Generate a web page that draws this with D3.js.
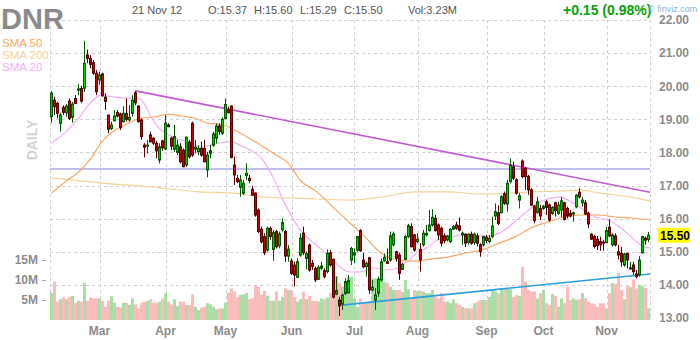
<!DOCTYPE html>
<html>
<head>
<meta charset="utf-8">
<script src="https://cdn.jsdelivr.net/npm/d3@7"></script>
<style>
  body { margin: 0; background: #fff; }
  svg { display: block; font-family: Arial, "Liberation Sans", sans-serif; }
</style>
</head>
<body>
<svg id="chart" width="700" height="340"></svg>
<script>
// --- data (daily candles, Feb 7 .. Nov 21 2012) ---
const monthLabels = ['Mar', 'Apr', 'May', 'Jun', 'Jul', 'Aug', 'Sep', 'Oct', 'Nov'];
const monthStart = [16, 38, 58, 80, 101, 122, 145, 164, 185]; // candle index of first trading day
const priceTicks = [13, 14, 15, 16, 17, 18, 19, 20, 21, 22];
const volTicks = [5, 10, 15]; // millions

const opens = [
  19.08, 19.58, 19.48, 18.88, 19.36, 19.20, 19.55, 19.06, 19.63, 19.88,
  19.93, 19.94, 20.94, 20.84, 20.71, 20.39, 20.19, 20.37, 19.67, 19.13,
  18.72, 18.96, 19.21, 19.16, 18.93, 19.18, 18.98, 19.18, 19.80, 19.40,
  18.98, 18.22, 18.20, 18.53, 18.43, 18.28, 17.77, 18.35, 18.10, 18.83,
  18.43, 18.10, 18.00, 18.17, 18.07, 17.62, 18.31, 18.88, 18.10, 18.02,
  18.12, 18.12, 17.47, 17.97, 18.22, 18.43, 18.80, 18.58, 19.03, 19.30,
  19.40, 17.62, 17.22, 16.95, 16.77, 17.30, 17.22, 16.89, 16.77, 16.26,
  15.68, 15.46, 15.05, 15.71, 15.07, 15.61, 15.18, 15.66, 15.61, 14.87,
  14.72, 14.60, 14.23, 14.90, 15.56, 14.80, 15.20, 14.65, 14.50, 14.17,
  14.50, 14.43, 14.40, 14.97, 14.77, 13.72, 13.54, 13.42, 13.74, 13.76,
  14.75, 14.90, 15.05, 15.64, 14.75, 14.55, 14.82, 13.85, 13.54, 13.75,
  14.15, 14.73, 14.70, 14.75, 15.21, 15.00, 14.90, 14.47, 14.77, 15.46,
  15.76, 15.51, 15.31, 15.07, 15.21, 15.51, 15.64, 15.81, 16.01, 15.81,
  15.71, 15.48, 15.36, 15.31, 15.68, 15.81, 15.78, 15.51, 15.53, 15.28,
  15.53, 15.28, 15.48, 15.21, 15.21, 15.44, 15.31, 15.46, 16.08, 16.18,
  16.18, 16.75, 16.44, 17.12, 17.57, 17.17, 16.56, 17.74, 17.52, 17.27,
  16.87, 16.38, 16.18, 16.31, 16.31, 16.51, 16.41, 16.16, 16.48, 16.16,
  16.26, 16.48, 16.31, 16.16, 16.14, 16.36, 16.80, 16.48, 16.48, 16.16,
  15.53, 15.46, 15.38, 15.31, 15.29, 15.28, 15.74, 15.21, 15.48, 15.00,
  14.95, 14.60, 14.95, 14.48, 14.60, 14.33, 14.30, 14.97, 15.41, 15.37
];
const highs = [
  19.86, 19.68, 19.53, 19.20, 19.43, 19.46, 19.63, 19.53, 19.73, 20.07,
  20.01, 21.37, 21.11, 20.94, 20.79, 20.49, 20.44, 20.41, 19.79, 19.13,
  18.93, 19.28, 19.28, 19.20, 19.40, 19.63, 19.43, 19.73, 19.86, 19.43,
  19.03, 18.28, 18.38, 18.63, 18.46, 18.35, 18.28, 18.38, 19.13, 18.88,
  18.48, 18.83, 18.38, 18.28, 18.12, 18.48, 18.38, 18.93, 18.38, 18.22,
  18.33, 18.38, 18.02, 18.23, 18.63, 18.88, 18.88, 19.06, 19.63, 19.38,
  19.42, 17.87, 17.32, 17.32, 17.17, 17.67, 17.32, 16.99, 16.79, 16.31,
  15.76, 15.56, 15.76, 15.76, 15.66, 15.66, 15.61, 16.01, 15.66, 15.20,
  14.80, 14.70, 14.80, 15.56, 15.76, 15.00, 15.25, 14.75, 14.55, 14.60,
  14.70, 14.50, 15.07, 15.05, 14.80, 14.25, 13.64, 13.74, 14.20, 14.30,
  15.15, 15.10, 15.48, 15.68, 14.97, 14.70, 14.85, 14.15, 13.90, 14.25,
  14.80, 14.95, 15.10, 15.61, 15.61, 15.03, 14.97, 14.67, 15.51, 15.84,
  15.86, 15.54, 15.56, 15.26, 15.66, 15.81, 16.26, 16.28, 16.11, 15.86,
  15.76, 15.56, 15.51, 15.71, 15.81, 15.91, 16.04, 15.61, 15.56, 15.56,
  15.61, 15.58, 15.56, 15.26, 15.48, 15.51, 15.51, 16.06, 16.46, 16.41,
  16.71, 16.82, 17.17, 17.82, 17.72, 17.22, 16.77, 17.79, 17.57, 17.32,
  16.92, 16.41, 16.66, 16.41, 16.41, 16.56, 16.46, 16.38, 16.51, 16.51,
  16.66, 16.51, 16.36, 16.26, 16.21, 16.74, 16.92, 16.66, 16.56, 16.21,
  15.56, 15.51, 15.48, 15.46, 15.36, 15.76, 15.98, 15.56, 15.56, 15.21,
  15.15, 14.97, 14.97, 14.70, 14.70, 14.45, 14.87, 15.48, 15.46, 15.60
];
const lows = [
  18.90, 19.13, 19.03, 18.63, 19.13, 19.08, 18.98, 18.90, 19.46, 19.73,
  19.50, 19.83, 20.69, 20.54, 20.34, 19.73, 20.04, 19.68, 19.28, 18.58,
  18.68, 18.93, 19.06, 18.68, 18.90, 18.93, 18.93, 19.08, 19.43, 18.90,
  18.38, 17.85, 17.97, 18.31, 18.22, 17.82, 17.67, 18.05, 18.07, 18.76,
  18.07, 18.02, 17.92, 17.67, 17.55, 17.57, 17.82, 17.87, 17.97, 17.92,
  17.87, 17.70, 17.25, 17.82, 18.17, 18.27, 18.53, 18.53, 19.00, 19.18,
  17.82, 17.02, 17.07, 16.66, 16.71, 17.17, 17.07, 16.69, 16.06, 15.56,
  15.25, 14.90, 15.00, 15.36, 14.73, 15.10, 15.10, 15.61, 14.70, 14.70,
  14.30, 13.95, 14.20, 14.85, 14.90, 14.47, 14.40, 14.45, 14.08, 14.15,
  14.45, 14.20, 14.35, 14.55, 13.59, 13.69, 13.06, 13.24, 13.69, 13.74,
  14.60, 14.65, 15.00, 15.00, 14.50, 14.25, 13.73, 13.80, 13.24, 13.64,
  14.10, 14.70, 14.65, 14.70, 15.16, 14.70, 14.15, 14.45, 14.75, 15.41,
  15.14, 15.00, 15.26, 14.40, 15.16, 15.46, 15.61, 15.76, 15.61, 15.36,
  15.16, 15.26, 15.31, 15.26, 15.66, 15.66, 15.61, 15.21, 15.14, 15.21,
  15.21, 15.21, 15.16, 14.85, 15.16, 15.26, 15.26, 15.41, 15.96, 15.81,
  16.16, 16.41, 16.21, 17.07, 17.17, 16.72, 16.31, 17.22, 16.87, 16.72,
  16.38, 15.86, 16.16, 15.96, 16.26, 16.11, 15.91, 16.11, 16.06, 16.11,
  16.04, 15.94, 16.01, 16.04, 15.91, 16.31, 16.61, 16.36, 16.11, 15.71,
  15.36, 15.10, 15.05, 15.03, 15.03, 15.26, 15.44, 15.16, 15.16, 14.77,
  14.55, 14.55, 14.50, 14.45, 14.30, 14.20, 14.25, 14.95, 15.21, 15.29
];
const closes = [
  19.79, 19.38, 19.18, 19.13, 19.21, 19.40, 19.03, 19.46, 19.48, 19.92,
  19.55, 20.69, 20.84, 20.66, 20.39, 19.83, 20.34, 19.71, 19.54, 18.70,
  18.83, 19.10, 19.10, 18.75, 19.18, 19.00, 19.06, 19.58, 19.50, 18.93,
  18.48, 18.16, 18.22, 18.32, 18.28, 18.05, 18.17, 18.14, 18.88, 18.78,
  18.19, 18.48, 18.22, 17.72, 17.57, 18.46, 17.87, 17.92, 18.16, 18.12,
  17.92, 17.72, 17.92, 18.05, 18.56, 18.80, 18.63, 19.00, 19.45, 19.20,
  17.85, 17.32, 17.12, 17.17, 17.07, 17.37, 17.15, 16.71, 16.11, 15.61,
  15.30, 14.97, 15.71, 15.46, 15.58, 15.15, 15.54, 15.88, 14.87, 15.08,
  14.35, 14.30, 14.70, 15.41, 14.97, 14.95, 14.45, 14.55, 14.15, 14.53,
  14.57, 14.25, 14.95, 14.60, 13.63, 13.83, 13.37, 13.69, 14.10, 14.13,
  15.10, 14.97, 15.46, 15.03, 14.55, 14.65, 13.85, 13.93, 13.70, 14.17,
  14.70, 14.83, 14.65, 15.48, 15.54, 14.80, 14.35, 14.62, 15.46, 15.79,
  15.15, 15.05, 15.38, 14.75, 15.56, 15.56, 15.81, 16.04, 15.64, 15.51,
  15.26, 15.34, 15.48, 15.68, 15.76, 15.71, 15.66, 15.56, 15.26, 15.53,
  15.26, 15.53, 15.26, 15.00, 15.46, 15.34, 15.41, 15.78, 16.21, 15.86,
  16.66, 16.46, 17.07, 17.62, 17.22, 16.77, 16.69, 17.27, 17.27, 16.87,
  16.41, 15.94, 16.51, 16.08, 16.38, 16.34, 15.96, 16.34, 16.24, 16.41,
  16.54, 15.98, 16.08, 16.08, 16.18, 16.71, 16.66, 16.56, 16.14, 15.84,
  15.38, 15.16, 15.18, 15.21, 15.26, 15.64, 15.48, 15.51, 15.21, 14.90,
  14.70, 14.93, 14.75, 14.52, 14.40, 14.25, 14.75, 15.46, 15.35, 15.50
];
const volumes = [ // millions
  6.8, 9.6, 4.6, 5.2, 5.6, 5.2, 5.8, 6.0, 4.3, 4.8,
  4.6, 9.3, 4.8, 5.6, 5.4, 5.4, 5.4, 4.8, 3.3, 4.8,
  6.0, 4.3, 3.3, 3.1, 4.3, 4.3, 3.8, 5.4, 3.9, 2.9,
  4.3, 4.6, 4.8, 5.2, 4.3, 4.3, 4.6, 5.2, 6.8, 4.6,
  3.9, 5.2, 3.5, 4.6, 4.6, 3.8, 3.8, 6.4, 3.3, 2.5,
  3.1, 3.3, 4.2, 3.9, 3.3, 2.7, 2.9, 2.9, 4.3, 6.8,
  7.9, 7.1, 5.8, 6.3, 6.4, 6.8, 5.2, 5.4, 8.5, 8.3,
  6.4, 7.3, 6.0, 4.8, 4.8, 7.1, 4.8, 5.8, 7.9, 7.5,
  7.5, 5.8, 4.6, 5.2, 7.1, 5.2, 6.0, 4.8, 4.8, 4.6,
  5.4, 5.2, 5.6, 6.8, 7.7, 11.0, 9.2, 8.3, 9.6, 10.7,
  10.7, 5.4, 3.3, 5.4, 4.2, 4.2, 4.6, 10.4, 10.4, 10.2,
  10.7, 9.6, 9.3, 8.3, 7.5, 7.5, 7.5, 7.0, 10.0, 7.7,
  5.4, 7.5, 7.3, 7.3, 7.1, 6.7, 6.7, 7.5, 5.8, 5.4,
  6.7, 4.6, 4.6, 4.2, 5.2, 4.2, 3.8, 3.3, 3.0, 2.9,
  2.9, 4.2, 4.6, 5.0, 5.0, 5.0, 5.8, 7.5, 7.2, 6.7,
  7.9, 7.7, 7.7, 7.7, 5.8, 6.3, 6.0, 13.3, 9.6, 7.5,
  7.1, 7.1, 5.4, 6.7, 7.5, 4.2, 3.8, 6.5, 6.0, 3.3,
  5.4, 4.2, 8.3, 5.0, 5.4, 5.0, 5.2, 6.7, 5.5, 4.6,
  4.2, 4.0, 3.3, 4.2, 4.2, 2.9, 6.7, 9.3, 9.0, 11.7,
  7.5, 5.2, 8.5, 8.2, 10.2, 7.9, 8.8, 8.5, 8.0, 2.9
];

// moving averages, read as [candle index, price]
const sma20 = [
  [0, 18.28], [5.5, 18.68], [9.8, 19.13], [13.2, 19.52], [16.5, 19.73], [21.2, 19.67],
  [25.5, 19.64], [28.8, 19.64], [31.2, 19.43], [33.2, 19.07], [35.5, 18.77], [40.5, 18.47],
  [46.2, 18.29], [49.5, 18.16], [56.2, 18.29], [60.2, 18.32], [62.8, 18.22], [66.2, 18.07],
  [70.5, 17.77], [73.8, 17.26], [77.2, 16.56], [80.2, 16.05], [82.8, 15.66], [86.2, 15.36],
  [89.5, 15.11], [92.8, 14.84], [96.2, 14.54], [99.5, 14.39], [102.8, 14.39], [107.2, 14.51],
  [111.8, 14.45], [116.2, 14.54], [122.2, 14.99], [125.5, 15.14], [128.8, 15.36], [132.2, 15.42],
  [136.5, 15.51], [141.2, 15.48], [145.5, 15.48], [149.5, 15.57], [153.2, 15.81], [157.8, 16.17],
  [162.2, 16.47], [166.5, 16.62], [169.8, 16.65], [172.2, 16.56], [176.5, 16.32], [181.2, 16.05],
  [185.5, 15.96], [189.8, 15.72], [193.2, 15.45], [196.5, 15.20], [199.5, 15.11]
];
const sma50 = [
  [0, 16.77], [4.5, 17.11], [9.8, 17.47], [13.2, 17.83], [16.5, 18.29], [19.8, 18.59],
  [23.2, 18.77], [26.5, 18.92], [29.8, 19.04], [34.5, 19.07], [38.8, 19.16], [43.2, 19.10],
  [47.8, 19.04], [51.8, 18.89], [57.2, 18.83], [62.8, 18.59], [68.5, 18.29], [73.8, 17.98],
  [79.5, 17.62], [82.8, 17.17], [88.5, 16.81], [93.8, 16.35], [99.5, 15.87], [104.5, 15.45],
  [109.8, 14.96], [115.5, 14.75], [121.2, 14.72], [126.5, 14.78], [132.2, 14.84], [137.8, 14.96],
  [143.2, 15.05], [149.5, 15.27], [154.5, 15.45], [159.8, 15.72], [165.5, 15.90], [171.2, 16.05],
  [176.5, 16.11], [182.2, 16.11], [187.8, 16.05], [193.2, 16.02], [199.5, 15.96]
];
const sma200 = [
  [0, 17.23], [16.2, 17.08], [32.8, 16.96], [49.5, 16.81], [59.8, 16.78], [71.2, 16.65],
  [82.2, 16.62], [99.5, 16.56], [109.8, 16.65], [121.2, 16.81], [132.2, 16.81], [143.2, 16.74],
  [159.8, 16.81], [171.2, 16.84], [176.5, 16.87], [182.2, 16.78], [193.2, 16.65], [199.5, 16.53]
];

// drawn trend lines
const resistanceLine = [[28, 19.86], [199.5, 16.80]];
const supportLine = [[96.7, 13.39], [199.5, 14.33]];
const levelLine = 17.5;
const lastPrice = 15.50;

// --- layout ---
const svg = d3.select('#chart');
const x = d3.scaleLinear().domain([-0.5, 199.5]).range([50, 650]);
const y = d3.scaleLinear().domain([13, 22]).range([318, 20]);
const yVol = d3.scaleLinear().domain([0, 20]).range([320, 240]);
const candleW = x(1) - x(0);
const idx = d3.range(opens.length);
const GRID = '#cfcfcf';
const AXIS_TXT = '#8c8c8c';

// grid
const grid = svg.append('g');
grid.selectAll('line.h')
  .data(priceTicks)
  .join('line')
  .attr('x1', 50).attr('x2', 650)
  .attr('y1', d => Math.round(y(d)) + 0.5).attr('y2', d => Math.round(y(d)) + 0.5)
  .attr('stroke', GRID).attr('stroke-dasharray', '3,3');
grid.selectAll('line.v')
  .data([-0.5, ...monthStart, 199.5])
  .join('line')
  .attr('x1', d => Math.round(x(d)) + 0.5).attr('x2', d => Math.round(x(d)) + 0.5)
  .attr('y1', 20).attr('y2', 320)
  .attr('stroke', GRID).attr('stroke-dasharray', '3,3');

// volume bars
svg.append('g')
  .selectAll('rect')
  .data(idx)
  .join('rect')
  .attr('x', i => x(i) - candleW / 2)
  .attr('width', candleW)
  .attr('y', i => yVol(volumes[i]))
  .attr('height', i => yVol(0) - yVol(volumes[i]))
  .attr('fill', i => (closes[i] >= opens[i] ? '#aadea6' : '#fdbcbc'));

// horizontal level
svg.append('line')
  .attr('x1', 50).attr('x2', 650)
  .attr('y1', y(levelLine)).attr('y2', y(levelLine))
  .attr('stroke', '#7f7fe0').attr('stroke-width', 1.2);

// moving averages
const maLine = d3.line().x(d => x(d[0])).y(d => y(d[1])).curve(d3.curveMonotoneX);
[[sma200, '#f3d49a'], [sma50, '#fba765'], [sma20, '#f2aef0']].forEach(([data, color]) => {
  svg.append('path')
    .datum(data)
    .attr('fill', 'none')
    .attr('stroke', color)
    .attr('stroke-width', 1.2)
    .attr('d', maLine);
});

// trend lines
const tLine = d3.line().x(d => x(d[0])).y(d => y(d[1]));
svg.append('path').datum(resistanceLine)
  .attr('fill', 'none').attr('stroke', '#c05ad2').attr('stroke-width', 1.6).attr('d', tLine);
svg.append('path').datum(supportLine)
  .attr('fill', 'none').attr('stroke', '#2d9fe0').attr('stroke-width', 1.6).attr('d', tLine);

// candles
const candles = svg.append('g').selectAll('g').data(idx).join('g');
candles.append('line')
  .attr('x1', i => Math.floor(x(i)) + 0.5).attr('x2', i => Math.floor(x(i)) + 0.5)
  .attr('y1', i => y(highs[i])).attr('y2', i => y(lows[i]))
  .attr('stroke', i => (closes[i] >= opens[i] ? '#005a00' : '#5a0000'));
candles.append('rect')
  .attr('x', i => Math.floor(x(i)) - 0.5)
  .attr('width', 2)
  .attr('y', i => y(Math.max(opens[i], closes[i])))
  .attr('height', i => Math.max(1, Math.abs(y(opens[i]) - y(closes[i]))))
  .attr('fill', i => (closes[i] >= opens[i] ? '#00cc00' : '#cc0000'))
  .attr('stroke', i => (closes[i] >= opens[i] ? '#005a00' : '#5a0000'))
  .attr('stroke-width', 1);

// right price axis
const yAxis = svg.append('g')
  .attr('transform', 'translate(656,0)')
  .call(d3.axisRight(y).tickValues(priceTicks).tickFormat(d3.format('.2f')).tickSize(0));
yAxis.select('.domain').remove();
yAxis.selectAll('text')
  .attr('fill', AXIS_TXT).attr('font-size', 12).attr('font-weight', 'bold')
  .attr('font-family', 'Arial, "Liberation Sans", sans-serif');

// last price tag
svg.append('rect')
  .attr('x', 658).attr('y', y(lastPrice) - 7.5).attr('width', 32).attr('height', 15)
  .attr('fill', '#ffff00');
svg.append('text')
  .attr('x', 660).attr('y', y(lastPrice) + 4.5)
  .attr('font-size', 12).attr('font-weight', 'bold').attr('fill', '#000')
  .text(d3.format('.2f')(lastPrice));

// left volume axis
const vAxis = svg.append('g')
  .attr('transform', 'translate(46,0)')
  .call(d3.axisLeft(yVol).tickValues(volTicks).tickFormat(d => d + 'M').tickSize(4).tickPadding(4));
vAxis.select('.domain').remove();
vAxis.selectAll('line').attr('stroke', '#aaa');
vAxis.selectAll('text')
  .attr('fill', AXIS_TXT).attr('font-size', 12).attr('font-weight', 'bold')
  .attr('font-family', 'Arial, "Liberation Sans", sans-serif');

// month labels
svg.append('g')
  .selectAll('text')
  .data(monthLabels)
  .join('text')
  .attr('x', (d, k) => x(monthStart[k]))
  .attr('y', 335)
  .attr('text-anchor', 'middle')
  .attr('font-size', 12).attr('font-weight', 'bold').attr('fill', AXIS_TXT)
  .text(d => d);

// header
svg.append('text').attr('x', 1).attr('y', 29)
  .attr('font-size', 29).attr('font-weight', 'bold').attr('fill', '#8a8a8a')
  .text('DNR');
const header = [
  ['21 Nov 12', 132], ['O:15.37', 208], ['H:15.60', 254], ['L:15.29', 300], ['C:15.50', 344], ['Vol:3.23M', 408]
];
svg.append('g').selectAll('text').data(header).join('text')
  .attr('x', d => d[1]).attr('y', 14)
  .attr('font-size', 11).attr('fill', '#555')
  .text(d => d[0]);
svg.append('text').attr('x', 563).attr('y', 15)
  .attr('font-size', 14).attr('font-weight', 'bold').attr('fill', '#0aa00a')
  .text('+0.15 (0.98%)');
svg.append('text').attr('x', 648).attr('y', 12)
  .attr('font-size', 9).attr('fill', '#7fb3e0')
  .text('\u00a9 finviz.com');

// legend
const legend = [['SMA 50', '#fba765'], ['SMA 200', '#f3d49a'], ['SMA 20', '#f2aef0']];
svg.append('g').selectAll('text').data(legend).join('text')
  .attr('x', 2).attr('y', (d, k) => 47 + k * 12)
  .attr('font-size', 11.5).attr('fill', d => d[1])
  .text(d => d[0]);

// DAILY watermark
svg.append('text')
  .attr('transform', 'translate(37,140) rotate(-90)')
  .attr('text-anchor', 'middle')
  .attr('font-size', 14).attr('font-weight', 'bold').attr('fill', '#d4d4d4')
  .text('DAILY');
</script>
</body>
</html>
